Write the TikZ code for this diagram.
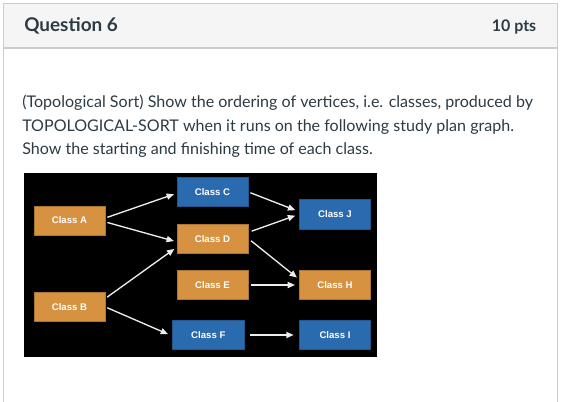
\documentclass[tikz,border=0pt]{standalone}
\usepackage{fontspec}
\setmainfont{Lato}
\newfontfamily\boxfont{Liberation Sans}
\usetikzlibrary{arrows.meta}

\definecolor{canvastext}{HTML}{2D3B45}
\definecolor{framegray}{HTML}{C7CDD1}
\definecolor{headgray}{HTML}{F5F5F5}
\definecolor{classorange}{HTML}{D69240}
\definecolor{classblue}{HTML}{2A6BB0}
\definecolor{arrowwhite}{HTML}{EDEDED}

\tikzset{
    classbox/.style={draw=#1!80!black, fill=#1, line width=0.4pt, minimum width=53.6pt,
        minimum height=22pt, inner sep=0pt, text=white, font=\boxfont\bfseries\fontsize{7.2pt}{8.5pt}\selectfont},
    flow/.style={arrowwhite, line width=1pt, -{Triangle[length=5.5pt,width=4.6pt]},
        shorten <=1.5pt, shorten >=2pt},
    bodyline/.style={anchor=base west, inner sep=0pt, text=canvastext,
        font=\fontsize{12.05pt}{15pt}\selectfont}
}

\begin{document}
\begin{tikzpicture}[x=0.75pt, y=-0.75pt]
        \useasboundingbox (0,0) rectangle (574,402);
        \fill[white] (0,0) rectangle (574,402);

        % Draw question frame with grey header bar
        \fill[headgray] (3.5,3.5) rectangle (557.5,48);
        \draw[framegray, line width=0.9pt] (3.5,402) -- (3.5,3.5) -- (557.5,3.5) -- (557.5,402);
        \draw[framegray, line width=0.9pt] (3.5,48) -- (557.5,48);

        % Header texts
        \node[anchor=base west, inner sep=0pt, text=canvastext, font=\bfseries\fontsize{14.2pt}{17pt}\selectfont]
            (title) at (24,31.5) {Question 6};
        \node[anchor=base east, inner sep=0pt, text=canvastext, font=\bfseries\fontsize{12pt}{14pt}\selectfont]
            (points) at (536.5,31.5) {10 pts};

        % Question text, one line each
        \node[bodyline] (line1) at (22,107.5) {(Topological Sort) Show the ordering of vertices, i.e. classes, produced by};
        \node[bodyline] (line2) at (22,131.3) {TOPOLOGICAL-SORT when it runs on the following study plan graph.};
        \node[bodyline] (line3) at (22,155) {Show the starting and finishing time of each class.};

        % Black background of the graph
        \fill[black] (24,173.5) rectangle (377,357);

        % Draw and label class boxes
        \foreach \name/\x/\y/\col in {A/69.5/220.5/classorange, B/69.5/307/classorange,
                C/212.5/192/classblue, D/212.5/238.7/classorange, E/212.5/285/classorange,
                F/208.3/335/classblue, J/335/214.3/classblue, H/335/285/classorange,
                I/335/335/classblue} {
            \node[classbox=\col] (cls\name) at (\x,\y) {Class \name};
        }

        % Draw prerequisite arrows
        \draw[flow] ([yshift=1.9pt]clsA.east) -- ([yshift=-1pt]clsC.west);
        \draw[flow] ([yshift=-1.1pt]clsA.east) -- ([yshift=-2.3pt]clsD.west);
        \draw[flow] ([yshift=6.5pt]clsB.east) -- ([yshift=-6.5pt]clsD.west);
        \draw[flow, shorten >=3.5pt] (clsB.east) -- ([yshift=-0.75pt]clsF.west);
        \draw[flow, shorten >=3pt] (clsC.east) -- ([yshift=2pt]clsJ.west);
        \draw[flow, shorten <=2.5pt, shorten >=3pt] ([yshift=4.8pt]clsD.east) -- (clsJ.west);
        \draw[flow, shorten <=2.5pt, shorten >=2pt] (clsD.east) -- ([yshift=4.3pt]clsH.west);
        \draw[flow, shorten >=3pt] (clsE.east) -- (clsH.west);
        \draw[flow, shorten <=4.5pt, shorten >=4pt] (clsF.east) -- (clsI.west);

    \end{tikzpicture}
\end{document}
